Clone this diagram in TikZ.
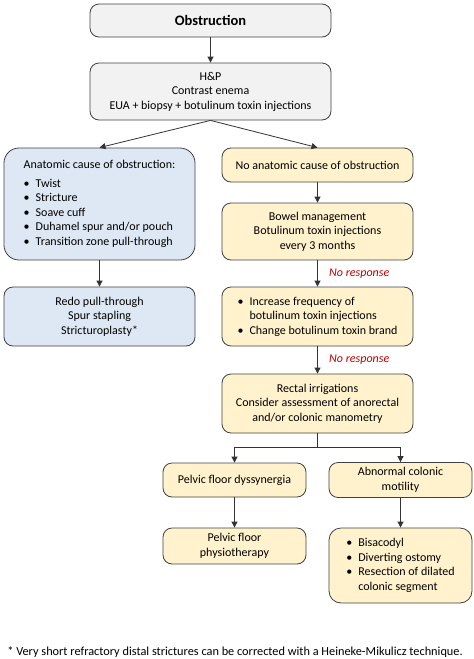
\documentclass[tikz,border=0pt]{standalone}
\usepackage{fontspec}
\setmainfont{Carlito}
\usetikzlibrary{arrows.meta}

\definecolor{boxline}{HTML}{404040}
\definecolor{greyfill}{HTML}{F2F2F2}
\definecolor{bluefill}{HTML}{DEE8F5}
\definecolor{yellowfill}{HTML}{FFF2CC}
\definecolor{noresp}{HTML}{C00000}

\newcommand{\bul}{\makebox[12pt][l]{\textbullet}}
\newcommand{\ind}{\hspace*{12pt}}

\tikzset{
  flowbox/.style={draw=boxline, line width=0.8pt, rounded corners=9pt, align=center,
    inner sep=2pt, font=\fontsize{12}{14.5}\selectfont},
  greybox/.style={flowbox, fill=greyfill},
  bluebox/.style={flowbox, fill=bluefill},
  yellowbox/.style={flowbox, fill=yellowfill},
  flowarrow/.style={-{Triangle[length=6pt,width=6pt]}, line width=0.8pt, draw=black!80},
  resplabel/.style={right=8pt, text=noresp, font=\fontsize{12}{14}\selectfont\itshape},
}

\begin{document}
\begin{tikzpicture}[x=1pt, y=-1pt]
  \useasboundingbox (0,0) rectangle (474,659);

  % Top of chart
  \node[greybox, minimum width=241pt, minimum height=33pt,
    font=\fontsize{14.5}{16}\selectfont\bfseries] (obs) at (210.5,20.5) {Obstruction};
  \node[greybox, minimum width=241pt, minimum height=57pt] (hp) at (210.5,91.5)
    {H\&P\\Contrast enema\\EUA + biopsy + botulinum toxin injections};

  % Left branch
  \node[bluebox, minimum width=191pt, minimum height=112pt, align=left,
    rounded corners=15pt] (anat) at (99.5,204)
    {Anatomic cause of obstruction:\\[4pt]
     \bul Twist\\ \bul Stricture\\ \bul Soave cuff\\
     \bul Duhamel spur and/or pouch\\ \bul Transition zone pull-through};
  \node[bluebox, minimum width=191pt, minimum height=59pt] (redo) at (99.5,316.5)
    {Redo pull-through\\Spur stapling\\Stricturoplasty*};

  % Right branch
  \node[yellowbox, minimum width=191pt, minimum height=34pt] (noanat) at (317.5,165)
    {No anatomic cause of obstruction};
  \node[yellowbox, minimum width=191pt, minimum height=57pt] (bowel) at (317.5,231.5)
    {Bowel management\\Botulinum toxin injections\\every 3 months};
  \node[yellowbox, minimum width=191pt, minimum height=59pt, align=left] (incr) at (317.5,316.5)
    {\bul Increase frequency of\\ \ind botulinum toxin injections\\ \bul Change botulinum toxin brand};
  \node[yellowbox, minimum width=191pt, minimum height=59pt] (rectal) at (317.5,403.5)
    {Rectal irrigations\\Consider assessment of anorectal\\and/or colonic manometry};

  % Bottom pair
  \node[yellowbox, minimum width=143pt, minimum height=34pt] (pelvic) at (234.5,480)
    {Pelvic floor dyssynergia};
  \node[yellowbox, minimum width=143pt, minimum height=35pt] (abnorm) at (400.5,480)
    {Abnormal colonic\\motility};
  \node[yellowbox, minimum width=143pt, minimum height=36pt] (physio) at (234.5,546)
    {Pelvic floor\\physiotherapy};
  \node[yellowbox, minimum width=143pt, minimum height=75pt, align=left,
    rounded corners=12pt] (bisa) at (400.5,565.5)
    {\bul Bisacodyl\\ \bul Diverting ostomy\\ \bul Resection of dilated\\ \ind colonic segment};

  \node[font=\fontsize{12.3}{14}\selectfont] (foot) at (235,652)
    {* Very short refractory distal strictures can be corrected with a Heineke-Mikulicz technique.};

  % Connectors
  \draw[flowarrow] (obs) -- (hp);
  \draw[flowarrow] (hp.south) -- (anat.north);
  \draw[flowarrow] (hp.south) -- (noanat.north);
  \draw[flowarrow] (anat) -- (redo);
  \draw[flowarrow] (noanat) -- (bowel);
  \draw[flowarrow] (bowel) -- node[resplabel] {No response} (incr);
  \draw[flowarrow] (incr) -- node[resplabel] {No response} (rectal);
  \draw[line width=0.8pt, draw=black!80] (rectal.south) -- ++(0,14) coordinate (fork);
  \draw[flowarrow] (fork) -| (pelvic.north);
  \draw[flowarrow] (fork) -| (abnorm.north);
  \draw[flowarrow] (pelvic) -- (physio);
  \draw[flowarrow] (abnorm) -- (bisa);
\end{tikzpicture}
\end{document}
